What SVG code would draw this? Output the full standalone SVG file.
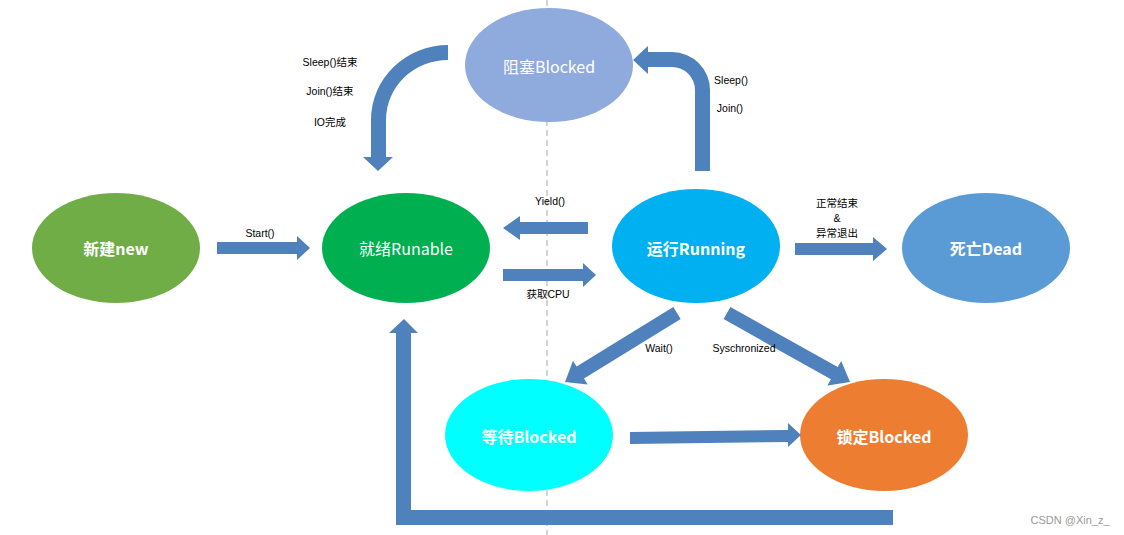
<svg xmlns="http://www.w3.org/2000/svg" width="1124" height="535" viewBox="0 0 1124 535">
<style>
.node text{font-family:"Noto Sans CJK SC","Noto Sans",sans-serif;font-size:16px;fill:#fff;text-anchor:middle;dominant-baseline:central}
.b{font-weight:bold}
.lbl{font-family:"Liberation Sans","Noto Sans CJK SC",sans-serif;font-size:10.5px;fill:#000;text-anchor:middle}
.arr{fill:#4F81BD}
</style>
<rect width="1124" height="535" fill="#fff"/>
<line x1="547" y1="0" x2="547" y2="535" stroke="#aaa" stroke-width="1" stroke-dasharray="6 4"/>
<g id="n-new" class="node"><ellipse cx="116" cy="248" rx="84" ry="55" fill="#70AD47"/><text x="116" y="248" class="b">新建new</text></g>
<g id="n-runable" class="node"><ellipse cx="406" cy="248" rx="84" ry="55" fill="#00B050"/><text x="406" y="248">就绪Runable</text></g>
<g id="n-running" class="node"><ellipse cx="696" cy="246" rx="84" ry="57" fill="#00B0F0"/><text x="696" y="248" class="b">运行Running</text></g>
<g id="n-dead" class="node"><ellipse cx="986" cy="248" rx="84" ry="55" fill="#5B9BD5"/><text x="986" y="248" class="b">死亡Dead</text></g>
<g id="n-blocked" class="node"><ellipse cx="549" cy="65" rx="84" ry="57" fill="#8FAADC"/><text x="549" y="66">阻塞Blocked</text></g>
<g id="n-wait" class="node"><ellipse cx="529" cy="435" rx="84" ry="56" fill="#00FFFF"/><text x="529" y="436" class="b">等待Blocked</text></g>
<g id="n-lock" class="node"><ellipse cx="884" cy="435" rx="84" ry="56" fill="#ED7D31"/><text x="884" y="436" class="b">锁定Blocked</text></g>
<g id="connectors">
<polygon class="arr" points="217,242 297,242 297,236 310,248 297,260 297,254 217,254"/>
<polygon class="arr" points="588,222 520,222 520,216 503,228 520,240 520,234 588,234"/>
<polygon class="arr" points="503,269 583,269 583,263 596,275 583,287 583,281 503,281"/>
<polygon class="arr" points="795,243 873,243 873,237 887,249 873,261 873,255 795,255"/>
<path class="arr" d="M710 171 L710 90 A38 38 0 0 0 672 52 L648 52 L648 46 L633 60 L648 74 L648 67 L672 67 A23 23 0 0 1 695 90 L695 171 Z"/>
<path class="arr" d="M448 45 A77 75 0 0 0 371 120 L371 157 L363 157 L378 171 L393 157 L386 157 L386 120 A62 60 0 0 1 448 60 Z"/>
<polygon class="arr" points="673.3,307 680.7,319 584,378.6 587.6,384.5 565,382 573,360.7 576.6,366.6"/>
<polygon class="arr" points="723.6,319.1 730.4,306.9 837.7,367.1 841.2,361 850,382 827.4,385.4 830.9,379.3"/>
<polygon class="arr" points="630,432 788,430 788,423 801,435 788,447 788,442 630,444"/>
<path class="arr" d="M893 510 L411 510 L411 333 L418 333 L404 319 L389 333 L396 333 L396 525 L893 525 Z"/>
</g>
<g id="labels">
<text class="lbl" x="260" y="237">Start()</text>
<text class="lbl" x="550" y="205">Yield()</text>
<text class="lbl" x="548" y="298">获取CPU</text>
<text class="lbl" x="837" y="207">正常结束</text>
<text class="lbl" x="837" y="222">&amp;</text>
<text class="lbl" x="837" y="237">异常退出</text>
<text class="lbl" x="330" y="66">Sleep()结束</text>
<text class="lbl" x="330" y="95">Join()结束</text>
<text class="lbl" x="330" y="126">IO完成</text>
<text class="lbl" x="731" y="84">Sleep()</text>
<text class="lbl" x="730" y="112">Join()</text>
<text class="lbl" x="659" y="352">Wait()</text>
<text class="lbl" x="744" y="352">Syschronized</text>
<text x="1070" y="524" font-family="Liberation Sans,sans-serif" font-size="11" fill="#999" text-anchor="middle">CSDN @Xin_z_</text>
</g>
</svg>
